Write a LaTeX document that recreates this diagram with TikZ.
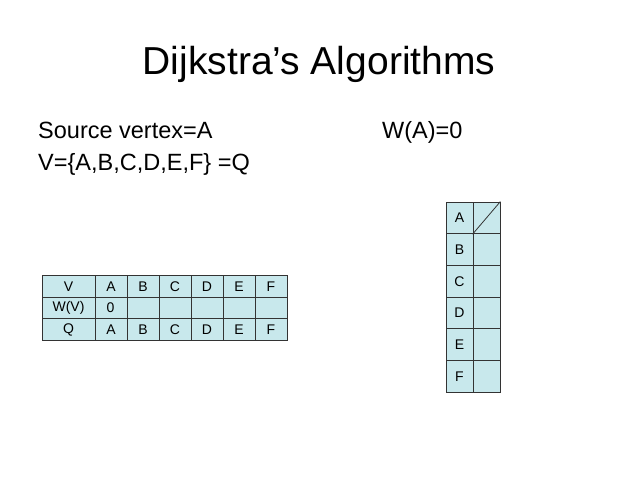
\documentclass[tikz,border=0pt]{standalone}
\usepackage{fontspec}
\setmainfont{Liberation Sans}
\definecolor{cellfill}{RGB}{200,232,236}
\begin{document}
\begin{tikzpicture}[x=1pt,y=-1pt,
  cell/.style={draw=black!80,fill=cellfill,line width=0.8pt,minimum height=21.3pt,inner sep=0pt,font=\fontsize{14}{16}\selectfont},
  rcell/.style={draw=black!80,fill=cellfill,line width=0.8pt,minimum width=27pt,minimum height=31.8pt,inner sep=0pt,font=\fontsize{14}{16}\selectfont},
  txt/.style={anchor=base west,inner sep=0pt,font=\fontsize{23.5}{28}\selectfont}]
\useasboundingbox (0,0) rectangle (638,478);
\node[font=\fontsize{39}{44}\selectfont,anchor=base] (title) at (319,75) {Dijkstra’s Algorithms};
\node[txt] (src) at (38,139) {Source vertex=A};
\node[txt] (wa) at (382,139) {W(A)=0};
\node[txt] (vq) at (38,171) {V=\{A,B,C,D,E,F\} =Q};
% left table
\foreach \r/\y/\lab in {0/286.5/V,1/308/W(V),2/329.5/Q}{
  \node[cell,minimum width=53pt] (h\r) at (68.5,\y) {\lab};
}
\foreach \c/\L [count=\i from 0] in {A,B,C,D,E,F}{
  \pgfmathsetmacro\xx{95+32*\i+16}
  \node[cell,minimum width=32pt] (v\c) at (\xx,286.5) {\L};
  \node[cell,minimum width=32pt] (w\c) at (\xx,308) {};
  \node[cell,minimum width=32pt] (q\c) at (\xx,329.5) {\L};
}
\node[font=\fontsize{14}{16}\selectfont,anchor=west] (z) at (103,308) {0};
% right column
\foreach \L [count=\i from 0] in {A,B,C,D,E,F}{
  \pgfmathsetmacro\yy{202+31.7*\i+15.85}
  \node[rcell] (l\L) at (459.5,\yy) {\L};
  \node[rcell] (r\L) at (486.5,\yy) {};
}
\draw[black!80,line width=0.8pt] (rA.south west) -- (rA.north east);
\end{tikzpicture}
\end{document}
